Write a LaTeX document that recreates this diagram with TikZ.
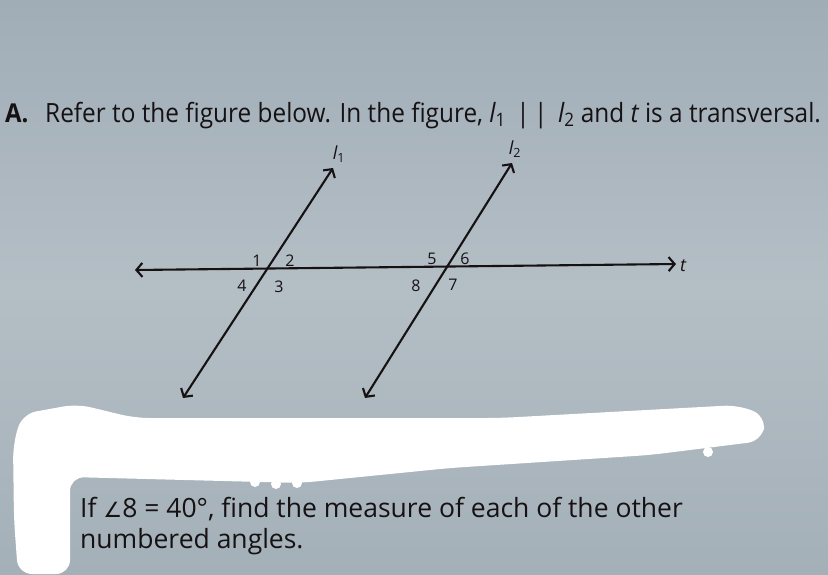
\documentclass[tikz,border=0pt]{standalone}
\usepackage{fontspec}
\setmainfont{Open Sans}
\newfontfamily\condfont[FakeStretch=0.92]{Open Sans}
\newfontfamily\symfont{DejaVu Sans}
\usetikzlibrary{arrows.meta}
\definecolor{bgtop}{RGB}{160,173,183}
\definecolor{bgmid}{RGB}{180,190,197}
\definecolor{bgbot}{RGB}{164,176,184}
\definecolor{ink}{RGB}{22,18,20}
\tikzset{
  geoline/.style={draw=ink, line width=2.1pt,
    {Straight Barb[length=6pt,width=14pt,line width=2.1pt]}-{Straight Barb[length=6pt,width=14pt,line width=2.1pt]}},
  anglab/.style={font=\fontsize{16}{16}\selectfont, text=ink, inner sep=0pt},
  linelab/.style={font=\fontsize{18}{18}\selectfont, text=ink, inner sep=0pt},
  bodytext/.style={font=\fontsize{26.5}{31}\selectfont, text=ink, inner sep=0pt, anchor=base west, align=left},
  blob/.style={fill=white, draw=none}
}
\begin{document}
\begin{tikzpicture}[x=1pt,y=-1pt]
\useasboundingbox (0,0) rectangle (828,574);
\shade[top color=bgtop, bottom color=bgbot, middle color=bgmid] (0,0) rectangle (828,574);

% title
\node[bodytext, font=\condfont\bfseries\fontsize{26}{30}\selectfont] (A) at (5,122) {A.};
\node[bodytext, font=\condfont\fontsize{26.5}{30}\selectfont] (title) at (45,122)
  {Refer to the figure below. In the figure, {\itshape l}\textsubscript{1} $\,$|\,|$\,$ {\itshape l}\textsubscript{2} and {\itshape t} is a transversal.};

% geometry
\coordinate (tL) at (135,270);
\coordinate (tR) at (676,264);
\coordinate (l1b) at (183,398);
\coordinate (l1t) at (333,168);
\coordinate (l2b) at (365,398);
\coordinate (l2t) at (512,163);
\draw[geoline] (tL) -- (tR);
\draw[geoline] (l1b) -- (l1t);
\draw[geoline] (l2b) -- (l2t);

\node[linelab] (labl1) at (339,154) {{\itshape l}\textsubscript{1}};
\node[linelab] (labl2) at (515,149) {{\itshape l}\textsubscript{2}};
\node[linelab, anchor=west] (labt) at (680,266) {{\itshape t}};

\node[anglab] (a1) at (257,261) {1};
\node[anglab] (a2) at (290,261) {2};
\node[anglab] (a3) at (279,287) {3};
\node[anglab] (a4) at (242,286) {4};
\node[anglab] (a5) at (432,259) {5};
\node[anglab] (a6) at (465,259) {6};
\node[anglab] (a7) at (453,285) {7};
\node[anglab] (a8) at (416,286) {8};

% white blot
\fill[blob, rounded corners=14pt]
  (13,445) -- (22,414) -- (77,404) -- (135,418) -- (500,418) -- (738,405)
  -- (766,416) -- (762,441) -- (650,455) -- (450,468) -- (300,483)
  -- (70,477) -- (70,574) -- (18,574) -- (14,520) -- cycle;
\fill[blob] (255,482) circle (5) (276,484) circle (5) (297,483) circle (5) (708,452) circle (5);

% question text
\node[bodytext] (q) at (80,548) {If {\symfont\fontsize{21}{24}\selectfont ∠}8 = 40°, find the measure of each of the other\\numbered angles.};
\end{tikzpicture}
\end{document}
